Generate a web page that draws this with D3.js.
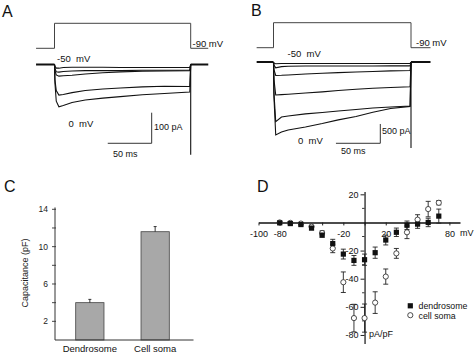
<!DOCTYPE html>
<html>
<head>
<meta charset="utf-8">
<script src="https://cdn.jsdelivr.net/npm/d3@7"></script>
<style>
  body { margin: 0; background: #fff; }
  svg { display: block; font-family: "Liberation Sans", Arial, sans-serif; }
  text { white-space: pre; }
</style>
</head>
<body>
<svg id="fig" width="474" height="353"></svg>
<script>
// A: dendrosome currents (pA), sampled at times after step onset (ms)
const timesA = [0.5, 2, 5, 10, 20, 35, 55, 75, 100, 125, 154];
const tracesA = [
  [-6, -12, -12, -10, -9, -9, -9, -10, -10, -10, -10],
  [-12, -24, -25, -23, -21, -20, -20, -20, -19, -19, -18],
  [-20, -34, -38, -37, -35, -31, -27, -24, -22, -21, -20],
  [-50, -85, -100, -98, -92, -85, -80, -77, -73, -71, -72],
  [-60, -120, -138, -134, -124, -116, -110, -105, -99, -95, -90]
];
const tailA = -295;

// B: cell soma currents (pA)
const timesB = [0.5, 2.5, 9, 16.5, 36, 55, 73, 93, 112, 132, 154];
const tracesB = [
  [-30, -45, -40, -40, -40, -40, -40, -40, -40, -40, -40],
  [-80, -150, -120, -110, -105, -105, -105, -105, -102, -100, -100],
  [-200, -350, -345, -335, -310, -290, -275, -260, -245, -230, -220],
  [-450, -855, -845, -835, -805, -775, -740, -705, -680, -660, -640],
  [-800, -1545, -1425, -1400, -1345, -1310, -1270, -1230, -1190, -1165, -1140],
  [-900, -1890, -1815, -1760, -1685, -1595, -1500, -1410, -1300, -1205, -1150]
];
const tailB = -2230;

const pulseMs = 155;
const cmdVolts = [-90, -90, -50, -50, -90, -90];

// C: capacitance
const cellTypes = ['Dendrosome', 'Cell soma'];
const capValues = [4.0, 11.6];
const capErrors = [0.35, 0.55];
const capTicks = [2, 6, 10, 14];
const capMinorTicks = [4, 8, 12];

// D: I-V relation
const voltages = [-80, -70, -60, -50, -40, -30, -20, -10, 0, 10, 20, 30, 40, 50, 60, 70];
const dendroIV = [-0.3, -0.8, -1.5, -4, -9, -15, -22.5, -27, -26.5, -21.5, -12.5, -7, -2, -1.2, 0, 4.5];
const dendroErr = [0.8, 0.8, 1, 1.2, 1.5, 3, 3.5, 3.5, 4, 4, 3.5, 3, 3, 3, 3, 5];
const somaIV = [0, -0.3, -0.8, -3, -7.5, -18.5, -42.5, -68, -68, -57, -38.5, -22, -7, 2, 9.5, 14];
const somaErr = [0.5, 0.5, 0.8, 1, 1.5, 3, 7.3, 9.8, 10, 7.7, 5.4, 3.5, 4.5, 3.5, 5.5, 1.5];
const xTicksD = [-100, -80, -60, -40, -20, 0, 20, 40, 60, 80];
const xLabelsD = [-100, -80, -20, 20, 80];
const yTicksD = [-80, -60, -40, -20, 20];
const yMinorD = [-70, -50, -30, -10, 10];

const svg = d3.select('#fig');
svg.append('rect').attr('width', 474).attr('height', 353).attr('fill', '#fff');

const label = (x, y, txt, size, anchor) => svg.append('text')
  .attr('x', x).attr('y', y)
  .attr('font-size', size)
  .attr('text-anchor', anchor || 'start')
  .attr('fill', '#111')
  .text(txt);

function drawTraces(times, traces, tail, x, y, v, pre, post, bar, barPa) {
  const g = svg.append('g');
  const line = d3.line().x(d => x(d[0])).y(d => y(d[1]));
  const cmdTimes = [pre, 0, 0, pulseMs, pulseMs, post];

  g.append('path')
    .attr('d', d3.line().x(d => x(d[0])).y(d => v(d[1]))(cmdTimes.map((t, i) => [t, cmdVolts[i]])))
    .attr('fill', 'none').attr('stroke', '#444').attr('stroke-width', 1);

  traces.forEach(tr => {
    const pts = [[0, 0]].concat(times.map((t, i) => [t, tr[i]]), [[pulseMs, 0]]);
    g.append('path')
      .attr('d', line(pts))
      .attr('fill', 'none').attr('stroke', '#111').attr('stroke-width', 1.1);
  });

  g.append('path').attr('d', line([[pre, 0], [0, 0]]))
    .attr('stroke', '#111').attr('stroke-width', 2);
  g.append('path').attr('d', line([[pulseMs, 0], [post, 0]]))
    .attr('stroke', '#111').attr('stroke-width', 2);
  g.append('path').attr('d', line([[pulseMs, 0], [pulseMs, tail]]))
    .attr('stroke', '#111').attr('stroke-width', 1.1);

  // scale bars: 50 ms and barPa
  g.append('path')
    .attr('d', line([[bar[0] - 50, bar[1]], [bar[0], bar[1]], [bar[0], bar[1] + barPa]]))
    .attr('fill', 'none').attr('stroke', '#333').attr('stroke-width', 1);
}

// panel A
const xA = d3.scaleLinear().domain([0, pulseMs]).range([54.5, 190.7]);
const yA = d3.scaleLinear().domain([0, -100]).range([64.5, 95.1]);
const vA = d3.scaleLinear().domain([-90, -50]).range([48.3, 23.3]);
drawTraces(timesA, tracesA, tailA, xA, yA, vA, -21, 175, [110.6, -257.5], 100);
label(2, 17, 'A', 16);
label(57, 61.5, '-50  mV', 9.5);
label(192.5, 46.5, '-90 mV', 9.5);
label(68.5, 126.5, '0  mV', 9.5);
label(154, 130, '100 pA', 9);
label(113, 156.5, '50 ms', 9);

// panel B
const xB = d3.scaleLinear().domain([0, pulseMs]).range([273.5, 411]);
const yB = d3.scaleLinear().domain([0, -500]).range([62, 81.3]);
const vB = d3.scaleLinear().domain([-90, -50]).range([47.7, 22.7]);
drawTraces(timesB, tracesB, tailB, xB, yB, vB, -19, 177, [120.4, -2106], 500);
label(251, 16, 'B', 16);
label(287.5, 57, '-50  mV', 9.5);
label(416, 46, '-90 mV', 9.5);
label(298, 144, '0  mV', 9.5);
label(382, 134, '500 pA', 9);
label(341, 154, '50 ms', 9);

// panel C
const xC = d3.scaleBand().domain(cellTypes).range([55, 190]).paddingInner(0.567).paddingOuter(0.317);
const yC = d3.scaleLinear().domain([0, 14]).range([340, 209.3]);
const gC = svg.append('g');

gC.selectAll('.bar').data(cellTypes).join('rect')
  .attr('class', 'bar')
  .attr('x', d => xC(d))
  .attr('y', (d, i) => yC(capValues[i]))
  .attr('width', xC.bandwidth())
  .attr('height', (d, i) => yC(0) - yC(capValues[i]))
  .attr('fill', '#a8a8a8')
  .attr('stroke', '#444')
  .attr('stroke-width', 0.8);

gC.selectAll('.err').data(cellTypes).join('path')
  .attr('class', 'err')
  .attr('d', (d, i) => {
    const cx = xC(d) + xC.bandwidth() / 2;
    const top = yC(capValues[i] + capErrors[i]);
    return `M${cx},${yC(capValues[i])}V${top}M${cx - 1.5},${top}H${cx + 1.5}`;
  })
  .attr('stroke', '#222').attr('stroke-width', 0.9);

gC.append('path').attr('d', `M55,${yC(0)}H193.5`).attr('stroke', '#333').attr('stroke-width', 1);
gC.append('path').attr('d', `M55,${yC(14.2)}V${yC(0)}`).attr('stroke', '#333').attr('stroke-width', 1);
gC.selectAll('.tk').data(capTicks.concat(capMinorTicks)).join('path')
  .attr('class', 'tk')
  .attr('d', d => `M52,${yC(d)}H56`)
  .attr('stroke', '#333').attr('stroke-width', 0.9);
gC.selectAll('.tl').data(capTicks).join('text')
  .attr('class', 'tl')
  .attr('x', 48).attr('y', d => yC(d) + 3)
  .attr('text-anchor', 'end')
  .attr('font-size', 8.5)
  .attr('fill', '#222')
  .text(d => d);
gC.selectAll('.cl').data(cellTypes).join('text')
  .attr('class', 'cl')
  .attr('x', d => xC(d) + xC.bandwidth() / 2)
  .attr('y', 352)
  .attr('text-anchor', 'middle')
  .attr('font-size', 9.5)
  .attr('fill', '#111')
  .text(d => d);
gC.append('text')
  .attr('transform', 'translate(28,273) rotate(-90)')
  .attr('text-anchor', 'middle')
  .attr('font-size', 9)
  .attr('fill', '#222')
  .text('Capacitance (pF)');
label(4, 192, 'C', 16);

// panel D
const xD = d3.scaleLinear().domain([-100, 90]).range([258.5, 460]);
const yD = d3.scaleLinear().domain([-86, 22]).range([343.4, 191.5]);
const gD = svg.append('g');

gD.append('g')
  .attr('transform', `translate(0,${yD(0)})`)
  .call(d3.axisBottom(xD).tickValues(xTicksD).tickSize(3).tickSizeOuter(0)
    .tickFormat(d => xLabelsD.includes(d) ? String(d) : ''))
  .call(g => g.select('.domain').attr('stroke', '#111').attr('stroke-width', 1.4))
  .call(g => g.selectAll('.tick line').attr('stroke', '#222'))
  .call(g => g.selectAll('.tick text').attr('font-size', 9).attr('fill', '#111')
    .attr('font-family', '"Liberation Sans", Arial, sans-serif').attr('dy', '0.9em'));

gD.append('g')
  .attr('transform', `translate(${xD(0)},0)`)
  .call(d3.axisLeft(yD).tickValues(yTicksD).tickSize(4).tickPadding(2).tickSizeOuter(0)
    .tickFormat(d => String(d)))
  .call(g => g.select('.domain').attr('stroke', '#111').attr('stroke-width', 1.2))
  .call(g => g.selectAll('.tick line').attr('stroke', '#222'))
  .call(g => g.selectAll('.tick text').attr('font-size', 9).attr('fill', '#111')
    .attr('font-family', '"Liberation Sans", Arial, sans-serif'));

gD.selectAll('.mtk').data(yMinorD).join('path')
  .attr('class', 'mtk')
  .attr('d', d => `M${xD(0) - 2.5},${yD(d)}H${xD(0)}`)
  .attr('stroke', '#222').attr('stroke-width', 0.9);

label(460, 236, 'mV', 9);
label(369, 337, 'pA/pF', 9);

const errPath = (vals, errs) => (d, i) => {
  const cx = xD(d);
  const lo = yD(vals[i] - errs[i]);
  const hi = yD(vals[i] + errs[i]);
  return `M${cx},${lo}V${hi}M${cx - 2.5},${lo}H${cx + 2.5}M${cx - 2.5},${hi}H${cx + 2.5}`;
};

gD.selectAll('.serr').data(voltages).join('path')
  .attr('class', 'serr')
  .attr('d', errPath(somaIV, somaErr))
  .attr('stroke', '#222').attr('stroke-width', 0.9).attr('fill', 'none');
gD.selectAll('.derr').data(voltages).join('path')
  .attr('class', 'derr')
  .attr('d', errPath(dendroIV, dendroErr))
  .attr('stroke', '#222').attr('stroke-width', 0.9).attr('fill', 'none');

gD.selectAll('.soma').data(voltages).join('circle')
  .attr('class', 'soma')
  .attr('cx', d => xD(d))
  .attr('cy', (d, i) => yD(somaIV[i]))
  .attr('r', 2.6)
  .attr('fill', '#fff').attr('stroke', '#222').attr('stroke-width', 0.8);
gD.selectAll('.dendro').data(voltages).join('rect')
  .attr('class', 'dendro')
  .attr('x', d => xD(d) - 2.6)
  .attr('y', (d, i) => yD(dendroIV[i]) - 2.6)
  .attr('width', 5.2).attr('height', 5.2)
  .attr('fill', '#111');

gD.append('rect').attr('x', 407.7).attr('y', 303.2).attr('width', 5.2).attr('height', 5.2).attr('fill', '#111');
gD.append('circle').attr('cx', 410.3).attr('cy', 315.2).attr('r', 2.6)
  .attr('fill', '#fff').attr('stroke', '#222').attr('stroke-width', 0.8);
label(418.5, 309, 'dendrosome', 8.8);
label(418.5, 318.6, 'cell soma', 8.8);
label(257, 192, 'D', 16);
</script>
</body>
</html>
